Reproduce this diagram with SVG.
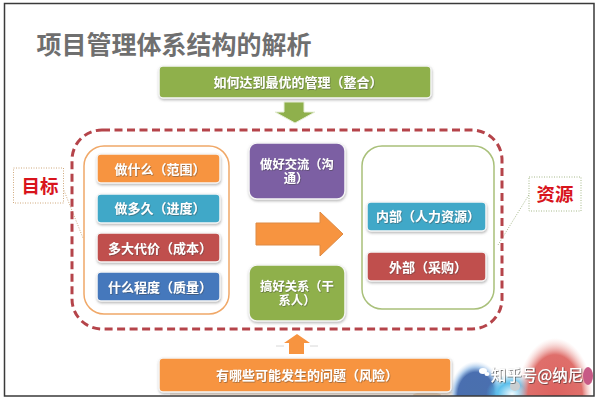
<svg xmlns="http://www.w3.org/2000/svg" width="600" height="401" viewBox="0 0 600 401">
<defs>
<radialGradient id="bRed" cx="0.5" cy="0.5" r="0.5"><stop offset="0" stop-color="#dc625f"/><stop offset="0.72" stop-color="#df6f6b"/><stop offset="1" stop-color="#f6c8c4" stop-opacity="0"/></radialGradient>
<radialGradient id="bBlue" cx="0.5" cy="0.5" r="0.5"><stop offset="0" stop-color="#4a70ad"/><stop offset="0.68" stop-color="#4a6fb0"/><stop offset="0.82" stop-color="#a9c8ea"/><stop offset="1" stop-color="#dbe9f7" stop-opacity="0"/></radialGradient>
<radialGradient id="bCyan" cx="0.5" cy="0.5" r="0.5"><stop offset="0" stop-color="#f2fafd"/><stop offset="0.55" stop-color="#5dc0ec"/><stop offset="1" stop-color="#4fb4e4" stop-opacity="0"/></radialGradient>
<filter id="sh" x="-10%" y="-20%" width="120%" height="140%"><feDropShadow dx="0.5" dy="1.5" stdDeviation="0.8" flood-color="#8a8a8a" flood-opacity="0.6"/></filter>
<filter id="ts" x="-10%" y="-30%" width="120%" height="160%"><feDropShadow dx="0.6" dy="0.8" stdDeviation="0.5" flood-color="#3a3a3a" flood-opacity="0.55"/></filter>
<filter id="wm" x="-10%" y="-30%" width="120%" height="160%"><feDropShadow dx="0.6" dy="0.6" stdDeviation="0.7" flood-color="#222" flood-opacity="0.85"/></filter>
<clipPath id="inner"><rect x="5" y="4" width="589" height="392"/></clipPath>
</defs>
<style>
text{font-family:"Noto Sans CJK SC","Liberation Sans",sans-serif;text-anchor:middle}
.b{stroke:#f6f6f6;stroke-width:1.5;filter:url(#sh)}
.t{fill:#fff;font-size:13px;font-weight:700;filter:url(#ts)}
.lab{fill:#d8141c;font-size:18.500px;font-weight:700}
.dotT{fill:#fff;stroke:#cfa87c;stroke-width:1;stroke-dasharray:1 1.5}
.dotG{fill:#fff;stroke:#a6b98a;stroke-width:1;stroke-dasharray:1 1.5}
</style>
<rect width="600" height="401" fill="#fff"/>
<g id="decor" clip-path="url(#inner)">
<rect x="170" y="392" width="290" height="4" fill="#f6e6d6"/>
<ellipse cx="427" cy="395" rx="14" ry="3" fill="#e6c4a0"/>
<ellipse cx="476" cy="396" rx="27" ry="35" fill="url(#bBlue)"/>
<ellipse cx="512" cy="394" rx="26" ry="20" fill="url(#bCyan)"/>
<circle cx="515" cy="386" r="5" fill="#c9cfd2"/>
<ellipse cx="555" cy="398" rx="38" ry="60" fill="url(#bRed)"/>
<ellipse cx="588" cy="376" rx="5" ry="9" fill="#c75a86"/>
<ellipse cx="483" cy="371" rx="4" ry="3" fill="#fff"/>
<ellipse cx="487" cy="374" rx="2.500" ry="2" fill="#fff"/>
</g>
<path id="border" d="M4.500 3.500H594V396H4.500Z" fill="none" stroke="#3a3a3a" stroke-width="1.500"/>
<text x="174" y="54" font-size="25" font-weight="700" fill="#6f6f6f">项目管理体系结构的解析</text>
<g id="connectors">
<path d="M284 102H304V112H315L295 123L275 112H284Z" fill="#8fb04c" stroke="#e7efd8"/>
<path d="M297 334L310 343H304V354H289V343H284Z" fill="#f79440"/>
<path d="M276 346H284M310 346H318" fill="none" stroke="#d8d8d8"/>
<path d="M256 223H320V212L343 234L320 256V245H256Z" fill="#f79440" stroke="#dd8a44"/>
<path d="M63 188L83 238" fill="none" stroke="#cfa87c" stroke-dasharray="1 1.500"/>
<path d="M530 193L498 245" fill="none" stroke="#a6b98a" stroke-dasharray="1 1.500"/>
</g>
<g id="frame"><rect x="72" y="130" width="430" height="199" rx="30" fill="none" stroke="#b5444a" stroke-width="3" stroke-dasharray="8 4.500"/></g>
<g id="group-goals"><rect x="84" y="146" width="145" height="168" rx="20" fill="#fff" stroke="#f0a868" stroke-width="1.500"/></g>
<g id="group-resources"><rect x="362" y="146" width="132" height="163" rx="20" fill="#fff" stroke="#a9c07a" stroke-width="1.500"/></g>
<g id="n-top"><rect class="b" x="159" y="66" width="272" height="32" rx="4" fill="#8fb04c"/><text class="t" x="298" y="87">如何达到最优的管理（整合）</text></g>
<g id="n-scope"><rect class="b" x="97" y="154" width="123" height="29" rx="4" fill="#f79440"/><text class="t" x="160" y="174">做什么（范围）</text></g>
<g id="n-time"><rect class="b" x="97" y="194" width="123" height="29" rx="4" fill="#40a8c8"/><text class="t" x="160" y="213">做多久（进度）</text></g>
<g id="n-cost"><rect class="b" x="97" y="233" width="123" height="29" rx="4" fill="#c0504d"/><text class="t" x="160" y="253">多大代价（成本）</text></g>
<g id="n-quality"><rect class="b" x="97" y="272" width="123" height="29" rx="4" fill="#4478bc"/><text class="t" x="160" y="292">什么程度（质量）</text></g>
<g id="n-comm"><rect class="b" x="249" y="143" width="96" height="56" rx="8" fill="#7b5ea3"/><text class="t" style="font-size:12.3px"><tspan x="297" y="169">做好交流（沟</tspan><tspan x="296" y="183">通）</tspan></text></g>
<g id="n-stake"><rect class="b" x="249" y="265" width="96" height="56" rx="8" fill="#8fb04c"/><text class="t" style="font-size:12.3px"><tspan x="297" y="291">搞好关系（干</tspan><tspan x="297" y="305">系人）</tspan></text></g>
<g id="n-inner"><rect class="b" x="367" y="202" width="119" height="29" rx="4" fill="#40a8c8"/><text class="t" x="428" y="221">内部（人力资源）</text></g>
<g id="n-outer"><rect class="b" x="367" y="252" width="119" height="29" rx="4" fill="#c0504d"/><text class="t" x="428" y="272">外部（采购）</text></g>
<g id="n-risk"><rect class="b" x="159" y="358" width="292" height="34" rx="4" fill="#f79440"/><text class="t" x="307" y="380">有哪些可能发生的问题（风险）</text></g>
<g id="n-goal"><rect class="dotT" x="13.500" y="168" width="50" height="35"/><text class="lab" x="40" y="192.500">目标</text></g>
<g id="n-res"><rect class="dotG" x="529" y="177" width="52" height="34"/><text class="lab" x="555" y="200.500">资源</text></g>
<text x="537" y="381" font-size="15.500" fill="#fff" font-weight="500" filter="url(#wm)">知乎号@纳尼</text>
</svg>
